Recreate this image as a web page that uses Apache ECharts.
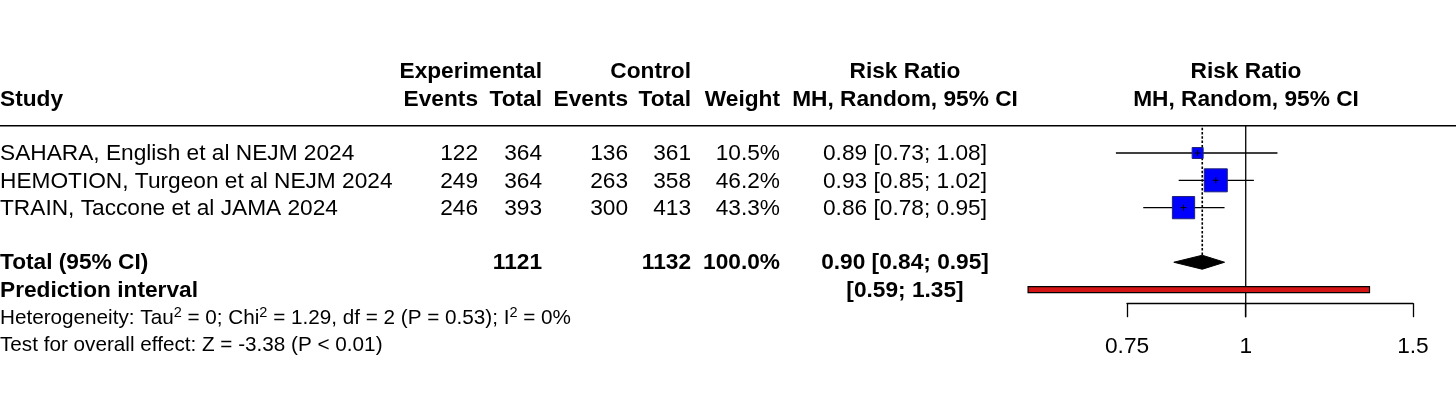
<!DOCTYPE html>
<html><head><meta charset="utf-8">
<script src="https://cdn.jsdelivr.net/npm/echarts@6/dist/echarts.min.js"></script>
<style>html,body{margin:0;padding:0;background:#fff}#c{width:1456px;height:411px}</style>
</head><body><div id="c"></div>
<script>
// ---------- data ----------
const studies = ['SAHARA, English et al NEJM 2024', 'HEMOTION, Turgeon et al NEJM 2024', 'TRAIN, Taccone et al JAMA 2024'];
const expEvents = [122, 249, 246];
const expTotals = [364, 364, 393];
const ctrlEvents = [136, 263, 300];
const ctrlTotals = [361, 358, 413];
const weights = [10.5, 46.2, 43.3];
const riskRatios = [0.89, 0.93, 0.86];
const ciLower = [0.73, 0.85, 0.78];
const ciUpper = [1.08, 1.02, 0.95];
const pooledTotals = [1121, 1132];
const pooledWeight = 100.0;
const pooled = [0.90, 0.84, 0.95];          // estimate, lower, upper
const predInterval = [0.59, 1.35];
const nullValue = 1;
const xTicks = [0.75, 1, 1.5];
const xTickLabels = ['0.75', '1', '1.5'];
const headerTop = ['Experimental', 'Control', 'Risk Ratio', 'Risk Ratio'];
const headerBottom = ['Study', 'Events', 'Total', 'Events', 'Total', 'Weight', 'MH, Random, 95% CI', 'MH, Random, 95% CI'];
const totalLabel = 'Total (95% CI)';
const predLabel = 'Prediction interval';
const hetStats = { tau2: '0', chi2: '1.29', df: '2', p: '0.53', i2: '0%' };
const overallEffect = { z: '-3.38', p: '< 0.01' };

// ---------- layout ----------
const FONT = '"Liberation Sans", Arial, Helvetica, sans-serif';
const FS = 22.7, FS_FOOT = 20.7;
const TEXT_DY = 1;
const GRID_TOP = 125.7, GRID_BOTTOM = 411 - 303.2;
const Y_MIN = -1, Y_MAX = 5.5;
const COL = { study: 0, expEvents: 478, expTotal: 542, ctrlEvents: 628, ctrlTotal: 691, weight: 780, rr: 905, plot: 1246, right: 1456 };
const ROW = { head1: -3, head2: -2, line: -1, total: 4, pred: 5, foot1: 6, foot2: 7 };
const TICK_LEN = 14;

const fmt2 = v => v.toFixed(2);
const ciText = (e, l, u) => fmt2(e) + ' [' + fmt2(l) + '; ' + fmt2(u) + ']';

// table rows: {row, cells:[{x, align, text, bold}]}
const tableRows = [];
tableRows.push({ row: ROW.head1, cells: [
  { x: COL.expTotal, align: 'right', text: headerTop[0], bold: true },
  { x: COL.ctrlTotal, align: 'right', text: headerTop[1], bold: true },
  { x: COL.rr, align: 'center', text: headerTop[2], bold: true },
  { x: COL.plot, align: 'center', text: headerTop[3], bold: true }
]});
tableRows.push({ row: ROW.head2, cells: [
  { x: COL.study, align: 'left', text: headerBottom[0], bold: true },
  { x: COL.expEvents, align: 'right', text: headerBottom[1], bold: true },
  { x: COL.expTotal, align: 'right', text: headerBottom[2], bold: true },
  { x: COL.ctrlEvents, align: 'right', text: headerBottom[3], bold: true },
  { x: COL.ctrlTotal, align: 'right', text: headerBottom[4], bold: true },
  { x: COL.weight, align: 'right', text: headerBottom[5], bold: true },
  { x: COL.rr, align: 'center', text: headerBottom[6], bold: true },
  { x: COL.plot, align: 'center', text: headerBottom[7], bold: true }
]});
studies.forEach((s, i) => tableRows.push({ row: i, cells: [
  { x: COL.study, align: 'left', text: s },
  { x: COL.expEvents, align: 'right', text: String(expEvents[i]) },
  { x: COL.expTotal, align: 'right', text: String(expTotals[i]) },
  { x: COL.ctrlEvents, align: 'right', text: String(ctrlEvents[i]) },
  { x: COL.ctrlTotal, align: 'right', text: String(ctrlTotals[i]) },
  { x: COL.weight, align: 'right', text: weights[i].toFixed(1) + '%' },
  { x: COL.rr, align: 'center', text: ciText(riskRatios[i], ciLower[i], ciUpper[i]) }
]}));
tableRows.push({ row: ROW.total, cells: [
  { x: COL.study, align: 'left', text: totalLabel, bold: true },
  { x: COL.expTotal, align: 'right', text: String(pooledTotals[0]), bold: true },
  { x: COL.ctrlTotal, align: 'right', text: String(pooledTotals[1]), bold: true },
  { x: COL.weight, align: 'right', text: pooledWeight.toFixed(1) + '%', bold: true },
  { x: COL.rr, align: 'center', text: ciText(pooled[0], pooled[1], pooled[2]), bold: true }
]});
tableRows.push({ row: ROW.pred, cells: [
  { x: COL.study, align: 'left', text: predLabel, bold: true },
  { x: COL.rr, align: 'center', text: '[' + fmt2(predInterval[0]) + '; ' + fmt2(predInterval[1]) + ']', bold: true }
]});
tableRows.push({ row: ROW.foot1, cells: [
  { x: COL.study, align: 'left', rich: true,
    text: '{n|Heterogeneity: Tau}{s|2}{n| = ' + hetStats.tau2 + '; Chi}{s|2}{n| = ' + hetStats.chi2 + ', df = ' + hetStats.df + ' (P = ' + hetStats.p + '); I}{s|2}{n| = ' + hetStats.i2 + '}' }
]});
tableRows.push({ row: ROW.foot2, cells: [
  { x: COL.study, align: 'left', rich: true,
    text: '{n|Test for overall effect: Z = ' + overallEffect.z + ' (P ' + overallEffect.p + ')}' }
]});

const richStyles = {
  n: { fontFamily: FONT, fontSize: FS_FOOT, lineHeight: 24, fill: '#000' },
  s: { fontFamily: FONT, fontSize: 14.5, lineHeight: 8, verticalAlign: 'top', fill: '#000' }
};

function textEl(x, y, c) {
  const st = { x, y: y + TEXT_DY, text: c.text, align: c.align, verticalAlign: 'middle', fontFamily: FONT,
    fontSize: FS, fontWeight: c.bold ? 'bold' : 'normal', fill: '#000' };
  if (c.rich) { st.rich = richStyles; st.fontSize = FS_FOOT; }
  return { type: 'text', style: st };
}

const chart = echarts.init(document.getElementById('c'), null, { renderer: 'canvas' });

const option = {
  backgroundColor: '#fff',
  animation: false,
  grid: [
    { left: 1127, right: 43, top: GRID_TOP, bottom: GRID_BOTTOM, outerBoundsMode: 'none', containLabel: false },
    { left: 0, right: 0, top: GRID_TOP, bottom: GRID_BOTTOM, outerBoundsMode: 'none', containLabel: false }
  ],
  xAxis: [
    { type: 'log', gridIndex: 0, min: 0.7499, max: 1.5001, position: 'bottom',
      axisLine: { show: true, onZero: false, lineStyle: { color: '#000', width: 1.3 } },
      axisTick: { show: true, inside: false, length: TICK_LEN, customValues: xTicks, lineStyle: { color: '#000', width: 1.3 } },
      axisLabel: { show: true, customValues: xTicks, margin: 32, color: '#000', fontFamily: FONT, fontSize: FS,
        formatter: v => { const k = xTicks.findIndex(t => Math.abs(t - v) < 1e-6); return k >= 0 ? xTickLabels[k] : ''; } },
      splitLine: { show: false }, minorTick: { show: false } },
    { type: 'value', gridIndex: 1, min: 0, max: COL.right, show: false }
  ],
  yAxis: [
    { type: 'value', gridIndex: 0, min: Y_MIN, max: Y_MAX, inverse: true, show: false },
    { type: 'value', gridIndex: 1, min: Y_MIN, max: Y_MAX, inverse: true, show: false }
  ],
  series: [
    // header rule
    { type: 'custom', xAxisIndex: 1, yAxisIndex: 1, clip: false, silent: true,
      data: [[0, ROW.line, COL.right]],
      renderItem: (params, api) => {
        const a = api.coord([api.value(0), api.value(1)]);
        const b = api.coord([api.value(2), api.value(1)]);
        return { type: 'line', shape: { x1: a[0], y1: a[1], x2: b[0], y2: b[1] }, style: { stroke: '#000', lineWidth: 1.4 } };
      } },
    // table text
    { type: 'custom', xAxisIndex: 1, yAxisIndex: 1, clip: false, silent: true,
      data: tableRows.map(r => [0, r.row]),
      renderItem: (params, api) => {
        const r = tableRows[params.dataIndex];
        return { type: 'group', children: r.cells.map(c => {
          const p = api.coord([c.x, r.row]);
          return textEl(p[0], p[1], c);
        }) };
      } },
    // null-effect line
    { type: 'custom', xAxisIndex: 0, yAxisIndex: 0, clip: false, silent: true, z: 1,
      data: [[nullValue, ROW.line, Y_MAX]],
      renderItem: (params, api) => {
        const a = api.coord([api.value(0), api.value(1)]);
        const b = api.coord([api.value(0), api.value(2)]);
        return { type: 'line', shape: { x1: a[0], y1: a[1], x2: b[0], y2: b[1] + TICK_LEN }, style: { stroke: '#000', lineWidth: 1.3 } };
      } },
    // pooled dotted line
    { type: 'custom', xAxisIndex: 0, yAxisIndex: 0, clip: false, silent: true, z: 1,
      data: [[pooled[0], ROW.line, ROW.total]],
      renderItem: (params, api) => {
        const a = api.coord([api.value(0), api.value(1)]);
        const b = api.coord([api.value(0), api.value(2)]);
        return { type: 'line', shape: { x1: a[0], y1: a[1] + 2, x2: b[0], y2: b[1] - 7 }, style: { stroke: '#000', lineWidth: 1.6, lineDash: [2.5, 1.8] } };
      } },
    // studies: CI lines + squares
    { type: 'custom', xAxisIndex: 0, yAxisIndex: 0, clip: false, silent: true, z: 2,
      data: riskRatios.map((r, i) => [r, i, ciLower[i], ciUpper[i], weights[i]]),
      encode: { x: 0, y: 1 },
      renderItem: (params, api) => {
        const p = api.coord([api.value(0), api.value(1)]);
        const lo = api.coord([api.value(2), api.value(1)]);
        const hi = api.coord([api.value(3), api.value(1)]);
        const s = 23 * Math.sqrt(api.value(4) / Math.max(...weights));
        return { type: 'group', children: [
          { type: 'line', shape: { x1: lo[0], y1: lo[1], x2: hi[0], y2: hi[1] }, style: { stroke: '#000', lineWidth: 1.3 } },
          { type: 'rect', shape: { x: p[0] - s / 2, y: p[1] - s / 2, width: s, height: s }, style: { fill: '#0000ff', stroke: '#22227a', lineWidth: 1 } },
          { type: 'line', shape: { x1: p[0] - 3, y1: p[1], x2: p[0] + 3, y2: p[1] }, style: { stroke: '#000', lineWidth: 1 } },
          { type: 'line', shape: { x1: p[0], y1: p[1] - 3, x2: p[0], y2: p[1] + 3 }, style: { stroke: '#000', lineWidth: 1 } }
        ] };
      } },
    // pooled diamond
    { type: 'custom', xAxisIndex: 0, yAxisIndex: 0, clip: false, silent: true, z: 3,
      data: [[pooled[0], ROW.total, pooled[1], pooled[2]]],
      renderItem: (params, api) => {
        const p = api.coord([api.value(0), api.value(1)]);
        const lo = api.coord([api.value(2), api.value(1)]);
        const hi = api.coord([api.value(3), api.value(1)]);
        const h = 7;
        return { type: 'polygon', shape: { points: [[lo[0], lo[1]], [p[0], p[1] - h], [hi[0], hi[1]], [p[0], p[1] + h]] }, style: { fill: '#000', stroke: '#000', lineWidth: 1 } };
      } },
    // prediction interval bar
    { type: 'custom', xAxisIndex: 0, yAxisIndex: 0, clip: false, silent: true, z: 3,
      data: [[predInterval[0], ROW.pred, predInterval[1]]],
      renderItem: (params, api) => {
        const lo = api.coord([api.value(0), api.value(1)]);
        const hi = api.coord([api.value(2), api.value(1)]);
        const h = 6;
        return { type: 'rect', shape: { x: lo[0], y: lo[1] - h / 2, width: hi[0] - lo[0], height: h }, style: { fill: '#d41414', stroke: '#000', lineWidth: 1.2 } };
      } }
  ]
};
chart.setOption(option);
</script>
</body></html>
